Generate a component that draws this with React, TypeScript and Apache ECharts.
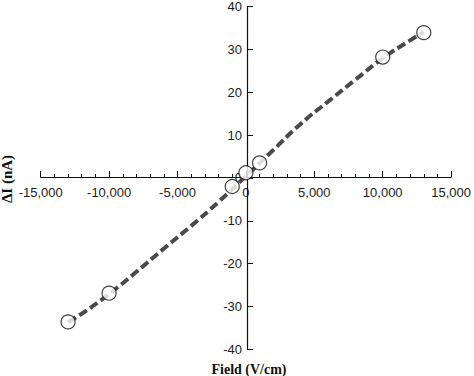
import React, { useEffect, useRef } from "react";
import * as echarts from "echarts";

const pointX = [-13000, -10000, -1000, 0, 1000, 10000, 13000];
const pointY = [-33.6, -26.9, -2.0, 1.2, 3.5, 28.2, 33.9];

const fitX = [-13000, -12000, -10000, -8000, -6000, -4000, -2000, 0, 2000, 4000, 6000, 8000, 10000, 12000, 13000];
const fitY = [-33.6, -31.7, -27.1, -21.9, -16.5, -11.2, -5.6, 0.4, 6.5, 12.6, 17.8, 22.9, 27.9, 32.1, 34.0];

const xTitle = "Field (V/cm)";
const yTitle = "ΔI (nA)";

const GRID = { left: 40.7, right: 20.7, top: 4.7, bottom: 26.7 };
const W = 474;
const H = 376;

export default function App() {
  const ref = useRef<HTMLDivElement>(null);
  useEffect(() => {
    if (!ref.current) return;
    const chart = echarts.init(ref.current, null, { renderer: "svg" });
    const labelStyle = {
      fontFamily: "Liberation Sans, Arial, sans-serif",
      fontSize: 13,
      color: "#1a1a1a",
    };
    const gridH = H - GRID.top - GRID.bottom;
    const gridW = W - GRID.left - GRID.right;
    chart.setOption({
      animation: false,
      backgroundColor: "#ffffff",
      grid: GRID,
      xAxis: {
        type: "value",
        min: -15000,
        max: 15000,
        interval: 5000,
        position: "bottom",
        offset: -gridH / 2,
        axisLine: { onZero: false, lineStyle: { color: "#111", width: 1.2 } },
        axisTick: { inside: true, length: 6, lineStyle: { color: "#111", width: 1 } },
        minorTick: { show: true, splitNumber: 5, length: 3, lineStyle: { color: "#111", width: 1 } },
        splitLine: { show: false },
        axisLabel: {
          ...labelStyle,
          margin: 9,
          formatter: (v: number) => v.toLocaleString("en-US"),
        },
      },
      yAxis: {
        type: "value",
        min: -40,
        max: 40,
        interval: 10,
        position: "left",
        offset: -gridW / 2,
        axisLine: { onZero: false, lineStyle: { color: "#111", width: 1.2 } },
        axisTick: { inside: true, length: 6, lineStyle: { color: "#111", width: 1 } },
        splitLine: { show: false },
        axisLabel: { ...labelStyle, margin: 5 },
      },
      series: [
        {
          type: "line",
          data: fitX.map((x, i) => [x, fitY[i]]),
          smooth: true,
          showSymbol: false,
          symbol: "none",
          lineStyle: { color: "#4a4a4a", width: 4, type: [9, 4], cap: "butt" },
          z: 2,
        },
        {
          type: "scatter",
          data: pointX.map((x, i) => [x, pointY[i]]),
          symbol: "circle",
          symbolSize: 14,
          itemStyle: { color: "#ffffff", borderColor: "#111", borderWidth: 1.2 },
          z: 3,
        },
      ],
      graphic: [
        {
          type: "text",
          x: 249,
          y: 369,
          style: {
            text: xTitle,
            fontFamily: "Liberation Serif, Times New Roman, serif",
            fontWeight: "bold",
            fontSize: 14,
            fill: "#111",
            align: "center",
            verticalAlign: "middle",
          },
        },
        {
          type: "text",
          x: 7,
          y: 179,
          rotation: Math.PI / 2,
          style: {
            text: yTitle,
            fontFamily: "Liberation Serif, Times New Roman, serif",
            fontWeight: "bold",
            fontSize: 15,
            fill: "#111",
            align: "center",
            verticalAlign: "middle",
          },
        },
      ],
    });
    return () => chart.dispose();
  }, []);
  return (
    <div
      ref={ref}
      style={{ position: "absolute", left: 0, top: 0, width: W, height: H }}
    />
  );
}
